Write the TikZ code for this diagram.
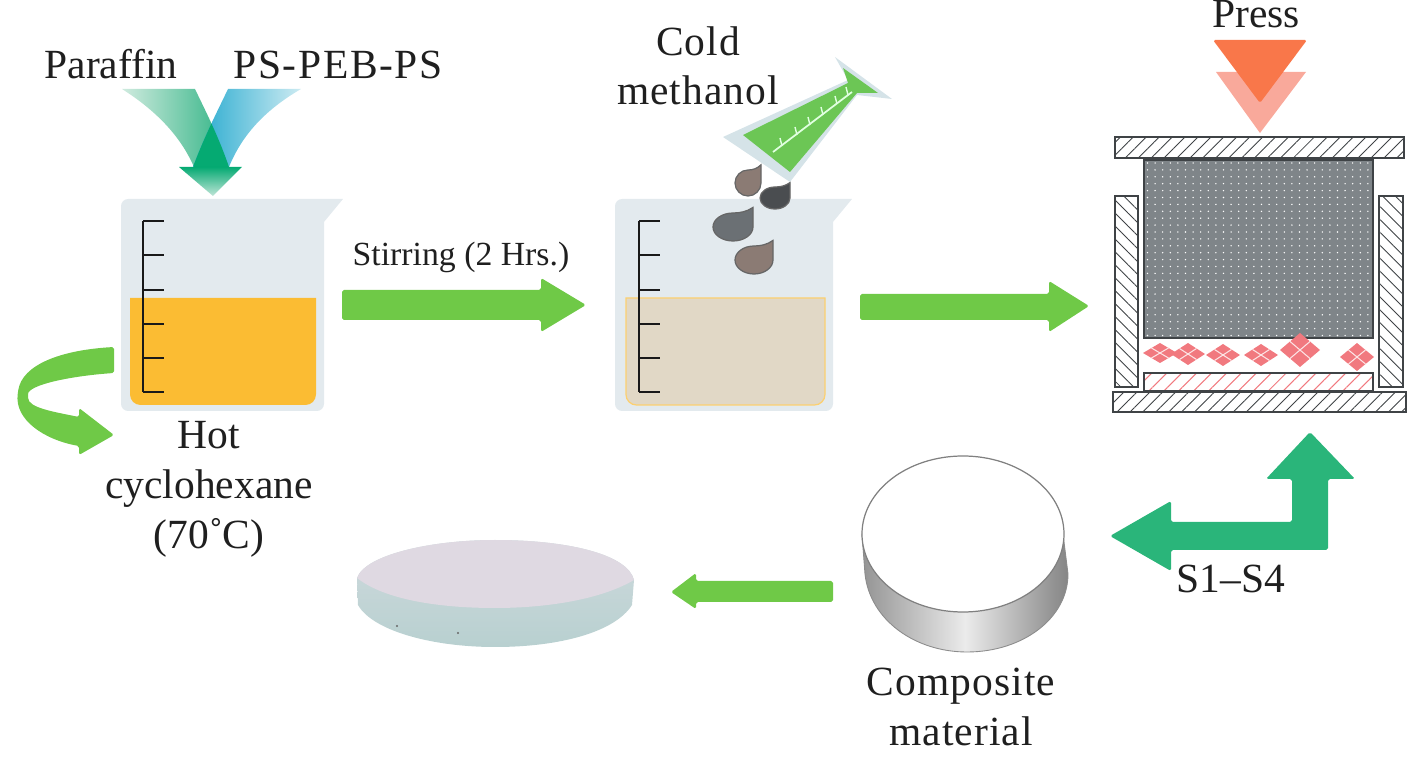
\documentclass[tikz,border=0pt]{standalone}
\usepackage{fontspec}
\setmainfont{Liberation Serif}
\usetikzlibrary{patterns.meta}
\definecolor{arrowgreen}{HTML}{6FC947}
\definecolor{darkgreen}{HTML}{2AB57A}
\definecolor{beakerblue}{HTML}{E3EAEE}
\definecolor{hotliquid}{HTML}{FBBC33}
\definecolor{coldliquid}{HTML}{E1D8C6}
\definecolor{platedark}{HTML}{3F4346}
\definecolor{plategray}{HTML}{7F8589}
\definecolor{pinkdiamond}{HTML}{F1797F}
\definecolor{flaskgreen}{HTML}{6CC655}
\definecolor{flaskpale}{HTML}{D5E3E8}
\definecolor{paraffinlight}{HTML}{D0EBDF}
\definecolor{paraffindark}{HTML}{2FB384}
\definecolor{polymerdark}{HTML}{22A8CE}
\definecolor{polymerlight}{HTML}{CDEBF2}
\definecolor{mixgreen}{HTML}{05AA72}
\definecolor{mixlight}{HTML}{C0E5D8}
\definecolor{pressdark}{HTML}{F9774A}
\definecolor{presslight}{HTML}{F9A99B}
\definecolor{dropbrown}{HTML}{8B7B74}
\definecolor{dropdark}{HTML}{4A4D50}
\definecolor{dropgray}{HTML}{6B7074}
\definecolor{foamtop}{HTML}{DFD9E2}
\definecolor{foammid}{HTML}{CFDADD}
\definecolor{foamlow}{HTML}{B8D0D0}
\tikzset{
    lbl/.style={font=\fontsize{11.8}{14.2}\selectfont, text=black!88, inner sep=0pt, align=center},
    smalllbl/.style={font=\fontsize{9.6}{11}\selectfont, text=black!88, inner sep=0pt},
    greenarrow/.style={fill=arrowgreen, rounded corners=0.5pt},
    beaker/.style={fill=beakerblue},
    tick/.style={line width=0.5pt, draw=black!90},
    plate/.style={draw=platedark, line width=0.6pt},
    hatchne/.style={pattern={Lines[angle=45,distance=2.6pt,line width=0.25pt]}, pattern color=platedark},
    hatchnw/.style={pattern={Lines[angle=-45,distance=2.6pt,line width=0.25pt]}, pattern color=platedark},
}
\begin{document}
\begin{tikzpicture}[x=0.01cm, y=-0.01cm]
    \useasboundingbox (0,0) rectangle (1423,779);

    % feed arrows
    \shade[left color=paraffinlight, right color=paraffindark] (122,89) -- (195,89) .. controls (205,110) and (218,135) .. (229,167) -- (194,167) .. controls (180,135) and (155,110) .. (122,89) -- cycle;
    \shade[left color=polymerdark, right color=polymerlight] (228,89) -- (301,89) .. controls (265,110) and (242,135) .. (229,167) -- (193,167) .. controls (205,135) and (218,110) .. (228,89) -- cycle;
    \begin{scope}
        \clip (195,89) .. controls (205,110) and (218,135) .. (229,167) -- (194,167) .. controls (180,135) and (155,110) .. (122,89) -- cycle;
        \fill[mixgreen] (228,89) -- (301,89) .. controls (265,110) and (242,135) .. (229,167) -- (193,167) .. controls (205,135) and (218,110) .. (228,89) -- cycle;
    \end{scope}
    \shade[top color=mixgreen, bottom color=mixlight] (179,167) -- (242,167) -- (213,196) -- cycle;

    % hot beaker
    \fill[beaker, rounded corners=2pt] (121,411) -- (121,199) [sharp corners] -- (343,199) -- (324,222) [rounded corners=2pt] -- (324,411) -- cycle;
    \fill[hotliquid, rounded corners=3pt] (130,298) [sharp corners] -- (316,298) [rounded corners=3pt] -- (316,405) -- (130,405) [sharp corners] -- cycle;
    \draw[tick] (143,221) -- (143,392);
    \foreach \y in {221,255,290,324,358,392} {
        \draw[tick] (143,\y) -- (164,\y);
    }

    % stirring arrow around the beaker
    \fill[greenarrow] (114,347) .. controls (60,350) and (22,365) .. (18,392) .. controls (14,420) and (45,440) .. (79,446) -- (79,455) -- (114,435) -- (79,408) -- (79,417) .. controls (55,412) and (28,408) .. (28,396) .. controls (28,385) and (70,376) .. (114,373) -- cycle;

    % methanol flask and drops
    \fill[flaskpale] (723,137) -- (848,80) -- (835,57) -- (892,99) -- (857,95) -- (790,182) -- cycle;
    \fill[flaskgreen] (743,135) -- (848,83) -- (843,68) -- (878,93) -- (857,93) -- (790,172) -- cycle;
    \draw[green!12!white, line width=0.5pt] (773,152) -- (852,92);
    \foreach \x/\y in {782/146,797/135,810/125,823/115,837/104,848/95} {
        \draw[green!12!white, line width=0.4pt] (\x,\y) -- ++(-2,-8);
    }

    % cold beaker
    \fill[beaker, rounded corners=2pt] (615,411) -- (615,199) [sharp corners] -- (852,199) -- (833,222) [rounded corners=2pt] -- (833,411) -- cycle;
    \draw[fill=coldliquid, draw=hotliquid!70!white, line width=0.35pt, rounded corners=3pt] (626,298) [sharp corners] -- (825,298) [rounded corners=3pt] -- (825,405) -- (626,405) [sharp corners] -- cycle;
    \draw[tick] (639,221) -- (639,392);
    \foreach \y in {221,255,290,324,358,392} {
        \draw[tick] (639,\y) -- (660,\y);
    }
    \foreach \cx/\cy/\rx/\ry/\col in {748/183/13/13/dropbrown, 775/198/15/11/dropdark, 733/227/20/14/dropgray, 754/260/19/14/dropbrown} {
        \filldraw[fill=\col, draw=black!60, line width=0.35pt] ({\cx+\rx},{\cy-1.4*\ry}) -- ({\cx+\rx},\cy) .. controls ({\cx+\rx},{\cy+0.55*\ry}) and ({\cx+0.55*\rx},{\cy+\ry}) .. (\cx,{\cy+\ry}) .. controls ({\cx-0.55*\rx},{\cy+\ry}) and ({\cx-\rx},{\cy+0.55*\ry}) .. ({\cx-\rx},\cy) .. controls ({\cx-\rx},{\cy-0.55*\ry}) and ({\cx-0.55*\rx},{\cy-\ry}) .. (\cx,{\cy-\ry}) .. controls ({\cx+0.35*\rx},{\cy-\ry}) and ({\cx+0.7*\rx},{\cy-1.1*\ry}) .. ({\cx+\rx},{\cy-1.4*\ry}) -- cycle;
    }

    % straight arrows
    \fill[greenarrow] (342,290) -- (541,290) -- (541,278) -- (586,305) -- (541,332) -- (541,320) -- (342,320) -- cycle;
    \fill[greenarrow] (860,294) -- (1049,294) -- (1049,281) -- (1089,306) -- (1049,332) -- (1049,320) -- (860,320) -- cycle;
    \fill[greenarrow] (833,581) -- (696,581) -- (696,573) -- (671,592) -- (696,609) -- (696,602) -- (833,602) -- cycle;

    % press
    \fill[presslight] (1216,72) -- (1306,72) -- (1260,133) -- cycle;
    \fill[pressdark, rounded corners=0.5pt] (1213,40) -- (1307,40) -- (1260,103) -- cycle;
    \draw[plate, hatchne] (1115,137) rectangle (1404,158);
    \draw[plate, hatchne] (1113,392) rectangle (1406,412);
    \draw[plate, hatchnw] (1115,196) rectangle (1138,387);
    \draw[plate, hatchnw] (1379,196) rectangle (1403,387);
    \draw[plate, fill=plategray] (1144,160) rectangle (1373,338);
    \foreach \x in {0,...,29} {
        \foreach \y in {0,...,25} {
            \fill[white] ({1147.5+7.6*\x},{163+6.9*\y}) circle (0.22pt);
        }
    }
    \draw[plate, pattern={Lines[angle=45,distance=3pt,line width=0.3pt]}, pattern color=pinkdiamond] (1144,373) rectangle (1373,391);
    \foreach \cx/\cy/\hw/\hh in {1160/353/17/10, 1188/354/17/11, 1223/355/17/11, 1261/355/17/11, 1300/350/20/17, 1357/357/17/14} {
        \fill[pinkdiamond] ({\cx-\hw},\cy) -- (\cx,{\cy-\hh}) -- ({\cx+\hw},\cy) -- (\cx,{\cy+\hh}) -- cycle;
        \draw[white!80!pinkdiamond, line width=0.3pt] ({\cx-0.5*\hw},{\cy-0.5*\hh}) -- ({\cx+0.5*\hw},{\cy+0.5*\hh});
        \draw[white!80!pinkdiamond, line width=0.3pt] ({\cx+0.5*\hw},{\cy-0.5*\hh}) -- ({\cx-0.5*\hw},{\cy+0.5*\hh});
    }

    % return arrow
    \fill[darkgreen, rounded corners=0.5pt] (1110,536) -- (1171,501) -- (1171,522) -- (1292,522) -- (1292,479) -- (1266,479) -- (1310,432) -- (1355,479) -- (1328,479) -- (1328,550) -- (1171,550) -- (1171,571) -- cycle;

    % composite disc
    \shade[left color=black!42, right color=black!48, middle color=black!8, draw=black!45, line width=0.25pt] (862,534) -- (865,574) .. controls (870,620) and (915,652) .. (967,652) .. controls (1023,652) and (1068,618) .. (1068,574) -- (1063,534) -- cycle;
    \filldraw[fill=white, draw=black!50, line width=0.35pt] (963,534) ellipse (101 and 78);

    % finished sample
    \shade[top color=foammid, bottom color=foamlow] (357,578) .. controls (365,555) and (430,540) .. (495,540) .. controls (570,540) and (628,555) .. (634,580) -- (632,605) .. controls (615,632) and (560,647) .. (495,647) .. controls (430,647) and (372,630) .. (358,605) -- cycle;
    \fill[foamtop] (357,578) .. controls (365,555) and (430,540) .. (495,540) .. controls (570,540) and (628,555) .. (634,580) .. controls (600,600) and (545,608) .. (495,608) .. controls (440,608) and (385,600) .. (357,578) -- cycle;
    \fill[black!60] (397,626) circle (0.3pt);
    \fill[black!60] (458,633) circle (0.3pt);

    % labels
    \node[lbl, anchor=base] (paraffin) at (111,79) {Paraffin};
    \node[lbl, anchor=base] (copolymer) at (338,79) {\addfontfeature{LetterSpace=4}PS-PEB-PS};
    \node[lbl, anchor=base] (solvent) at (209,548) {Hot\\cyclohexane\\(70˚C)};
    \node[smalllbl, anchor=base] (stirring) at (461,266) {Stirring (2 Hrs.)};
    \node[lbl, anchor=base] (methanol) at (698,105) {\addfontfeature{LetterSpace=2.5}Cold\\\addfontfeature{LetterSpace=2.5}methanol};
    \node[lbl, anchor=base] (press) at (1256,28) {Press};
    \node[lbl, anchor=base] (samples) at (1231,593) {S1–S4};
    \node[lbl, anchor=base] (composite) at (961,745) {\addfontfeature{LetterSpace=2.5}Composite\\\addfontfeature{LetterSpace=2.5}material};
\end{tikzpicture}
\end{document}
